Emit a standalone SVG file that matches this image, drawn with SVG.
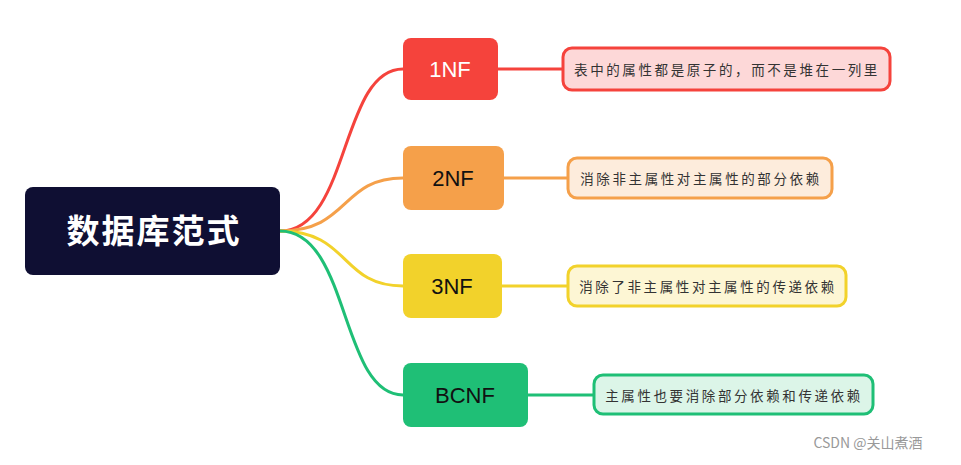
<svg xmlns="http://www.w3.org/2000/svg" width="961" height="465" viewBox="0 0 961 465">
<style>
.n{font-family:"Liberation Sans","Noto Sans CJK SC",sans-serif;font-size:22px;text-anchor:middle;dominant-baseline:central}
.l{font-family:"Noto Sans CJK SC",sans-serif;font-size:13.5px;letter-spacing:2.6px;text-anchor:middle;dominant-baseline:central;fill:#333}
.c{fill:none;stroke-width:3;stroke-linecap:round}
</style>
<rect width="961" height="465" fill="#fff"/>
<g id="connectors">
<path class="c" stroke="#f5433c" d="M280 231 C350 231 340 69 403 69"/>
<path class="c" stroke="#f5a04a" d="M280 231 C350 231 340 178 403 178"/>
<path class="c" stroke="#f2d22b" d="M280 231 C350 231 340 286 403 286"/>
<path class="c" stroke="#1fbf76" d="M280 231 C350 231 340 395 403 395"/>
<path class="c" stroke="#f5433c" d="M498 69 L563 69"/>
<path class="c" stroke="#f5a04a" d="M504 178 L568 178"/>
<path class="c" stroke="#f2d22b" d="M502 286 L568 286"/>
<path class="c" stroke="#1fbf76" d="M528 395 L594 395"/>
</g>
<g id="root"><rect x="25" y="187" width="255" height="88" rx="8" fill="#0f0f33"/><text class="n" x="154" y="231" fill="#fff" style="font-size:33px;font-weight:bold;letter-spacing:2px">数据库范式</text></g>
<g id="n1"><rect x="403" y="38" width="95" height="62" rx="8" fill="#f5433c"/><text class="n" x="450" y="69" fill="#fff">1NF</text></g>
<g id="n2"><rect x="403" y="146" width="101" height="64" rx="8" fill="#f5a04a"/><text class="n" x="453" y="178" fill="#111">2NF</text></g>
<g id="n3"><rect x="403" y="254" width="99" height="64" rx="8" fill="#f2d22b"/><text class="n" x="452" y="286" fill="#111">3NF</text></g>
<g id="n4"><rect x="403" y="363" width="125" height="64" rx="8" fill="#1fbf76"/><text class="n" x="465" y="395" fill="#111">BCNF</text></g>
<g id="d1"><rect x="563" y="48" width="327" height="42" rx="9" fill="#fdd8d8" stroke="#f5433c" stroke-width="3"/><text class="l" x="727" y="69">表中的属性都是原子的，而不是堆在一列里</text></g>
<g id="d2"><rect x="568" y="158" width="264" height="40" rx="9" fill="#fdecdc" stroke="#f5a04a" stroke-width="3"/><text class="l" x="701" y="178">消除非主属性对主属性的部分依赖</text></g>
<g id="d3"><rect x="568" y="266" width="278" height="40" rx="9" fill="#fdf6d4" stroke="#f2d22b" stroke-width="3"/><text class="l" x="708" y="286">消除了非主属性对主属性的传递依赖</text></g>
<g id="d4"><rect x="594" y="375" width="279" height="39" rx="9" fill="#dcf5e8" stroke="#1fbf76" stroke-width="3"/><text class="l" x="734" y="395">主属性也要消除部分依赖和传递依赖</text></g>
<text x="868" y="448" font-family="Noto Sans CJK SC,sans-serif" font-size="14" fill="#999" text-anchor="middle">CSDN @关山煮酒</text>
</svg>
